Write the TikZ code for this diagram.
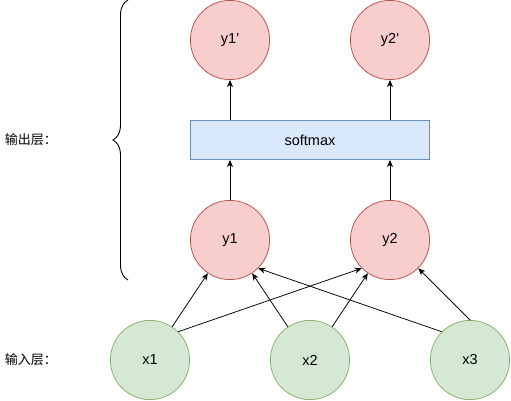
\documentclass[tikz,border=0pt]{standalone}
\usepackage{fontspec}
\setmainfont{Liberation Sans}
\newfontfamily\cjk{Noto Sans CJK SC}
\usepackage{tikz}
\usetikzlibrary{arrows.meta, positioning, decorations.pathreplacing}

\definecolor{redfill}{HTML}{F8CECC}
\definecolor{redline}{HTML}{B85450}
\definecolor{greenfill}{HTML}{D5E8D4}
\definecolor{greenline}{HTML}{82B366}
\definecolor{bluefill}{HTML}{DAE8FC}
\definecolor{blueline}{HTML}{6C8EBF}

\begin{document}
\begin{tikzpicture}[x=1pt,y=1pt,font=\fontsize{14.5}{17}\selectfont]
        \useasboundingbox (0,0) rectangle (511,400);
        \begin{scope}[every node/.style={draw=redline,fill=redfill,circle,line width=0.75pt,minimum size=79.25pt,inner sep=0pt}]
          \node (y1p) at (230,360) {y1\textquotesingle};
          \node (y2p) at (390,360) {y2\textquotesingle};
          \node (y1) at (230,160) {y1};
          \node (y2) at (390,160) {y2};
        \end{scope}
        \node[draw=blueline,fill=bluefill,line width=0.75pt,minimum width=239.25pt,minimum height=39.25pt,inner sep=0pt] (soft) at (310,260) {softmax};
        \begin{scope}[every node/.style={draw=greenline,fill=greenfill,circle,line width=0.75pt,minimum size=79.25pt,inner sep=0pt}]
          \node (x1) at (150,40) {x1};
          \node (x2) at (310,40) {x2};
          \node (x3) at (470,40) {x3};
        \end{scope}
        \node[font=\fontsize{13}{15}\selectfont] (outlbl) at (31,260) {\cjk 输出层：};
        \node[font=\fontsize{13}{15}\selectfont] (inlbl) at (31,40) {\cjk 输入层：};
        % brace round the output layer
        \coordinate (bracelo) at (128,120);
        \coordinate (bracehi) at (128,400);
        \draw[line width=0.9pt,decorate,decoration={brace,amplitude=15pt}] (bracelo) -- (bracehi);
        \begin{scope}[every edge/.style={draw=black,line width=0.75pt,-{Stealth[length=7pt,width=6pt,inset=2pt]}}]
          \path (y1.north) edge (soft.south -| y1);
          \path (y2.north) edge (soft.south -| y2);
          \path (soft.north -| y1p) edge (y1p.south);
          \path (soft.north -| y2p) edge (y2p.south);
          \path (x1) edge (y1);
          \path (x1.45) edge (y2.225);
          \path (x2) edge (y1);
          \path (x2) edge (y2);
          \path (x3.135) edge (y1.315);
          \path (x3.north) edge (y2.315);
        \end{scope}
      \end{tikzpicture}
\end{document}
